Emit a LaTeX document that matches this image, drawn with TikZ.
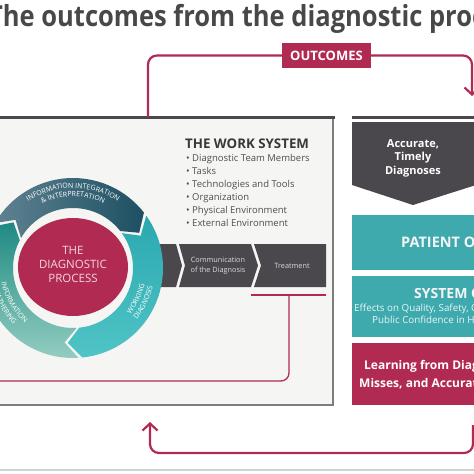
\documentclass[tikz,border=0pt]{standalone}
\usepackage{fontspec}
\setmainfont{Open Sans}
\usepackage{tikz}
\usetikzlibrary{positioning, arrows.meta, decorations.text}

\definecolor{crim}{RGB}{176,42,82}
\definecolor{tealbox}{RGB}{62,170,174}
\definecolor{darkbar}{RGB}{74,72,77}
\definecolor{titlegray}{RGB}{72,72,74}
\definecolor{boxbg}{RGB}{245,245,243}
\definecolor{rimgray}{RGB}{125,125,125}
\definecolor{pinktxt}{RGB}{246,214,222}
\definecolor{listgray}{RGB}{78,78,80}

\newcommand\ringtxt{\color{white}\fontsize{7}{7}\selectfont}

\begin{document}
\begin{tikzpicture}[x=1pt, y=1pt,
    fb/.style={draw=crim, line width=2.2pt, rounded corners=9pt},
    frameline/.style={draw=crim, line width=1.3pt, rounded corners=8pt},
    barb/.style={-{Straight Barb[length=7pt, width=15pt]}},
    lbl/.style={inner sep=0pt, anchor=base west},
    ringtext/.style={decorate, decoration={text along path, text align=center, text={|\ringtxt|#1}}}]

    \useasboundingbox (0,0) rectangle (474,-474);
    \clip (0,0) rectangle (474,-474);
    \fill[white] (0,0) rectangle (474,-474);

    \node (title) [lbl, text=titlegray] at (-12,-26)
        {\scalebox{0.88}[1]{\fontsize{29}{29}\selectfont\bfseries The outcomes from the diagnostic process}};

    % the work system
    \fill[boxbg] (-5,-117) rectangle (333,-405);
    \draw[rimgray, line width=1.6pt] (-5,-405) -| (333,-117);
    \draw[darkbar, line width=3pt] (-5,-117) -- (334.5,-117);

    \coordinate (loopin) at (148,-117);
    \coordinate (loopout) at (472,-96);
    \coordinate (outcpt) at (326.5,-55.5);
    \draw[fb, barb] (loopin) |- (outcpt) -| (loopout);
    \node (outc) [fill=crim, text=white, inner sep=0pt, minimum width=89pt, minimum height=25pt,
        font=\fontsize{13}{13}\selectfont\bfseries] at (outcpt) {OUTCOMES};

    \node (ws) [lbl, text=black!78, font=\fontsize{13.3}{13.3}\selectfont\bfseries] at (185,-148) {THE WORK SYSTEM};
    \foreach \t [count=\i] in {Diagnostic Team Members, Tasks, Technologies and Tools,
        Organization, Physical Environment, External Environment}
        \node (item\i) [lbl, text=listgray, font=\fontsize{9.5}{9.5}\selectfont] at (186,-148.5-13*\i) {\textbullet\ \t};

    \fill[darkbar] (150,-244) -- (176,-244) -- (182,-265.5) -- (176,-287) -- (150,-287) -- cycle;
    \fill[darkbar] (179,-244) -- (251,-244) -- (258,-265.5) -- (251,-287) -- (179,-287) -- (185,-265.5) -- cycle;
    \fill[darkbar] (254,-244) -- (326,-244) -- (326,-287) -- (254,-287) -- (261,-265.5) -- cycle;
    \node (comm) [align=center, text=black!14, inner sep=0pt, font=\fontsize{7.3}{10}\selectfont] at (218,-266) {Communication\\of the Diagnosis};
    \node (treat) [text=black!14, inner sep=0pt, font=\fontsize{7.3}{10}\selectfont] at (292,-266) {Treatment};

    \coordinate (trl) at (251,-295);
    \coordinate (trr) at (326,-295);
    \coordinate (trm) at (289,-295);
    \coordinate (frl) at (-5,-381);
    \draw[frameline] (trl) -- (trr);
    \draw[frameline] (trm) |- (frl);

    % the diagnostic process
    \begin{scope}[shift={(73,-268)}]
        \shade[left color={rgb,255:red,96;green,130;blue,146}, right color={rgb,255:red,28;green,80;blue,98}]
            (150:90) arc[start angle=150, end angle=38, radius=90] -- (28:75) -- (38:60)
            arc[start angle=38, end angle=150, radius=60] -- (140:75) -- cycle;
        \shade[top color={rgb,255:red,42;green,168;blue,176}, bottom color={rgb,255:red,80;green,196;blue,198}]
            (35.5:90) arc[start angle=35.5, end angle=-84, radius=90] -- (-94:75) -- (-84:60)
            arc[start angle=-84, end angle=35.5, radius=60] -- (25.5:75) -- cycle;
        \shade[top color={rgb,255:red,30;green,138;blue,130}, bottom color={rgb,255:red,150;green,206;blue,194}]
            (-86.5:90) arc[start angle=-86.5, end angle=-207.5, radius=90] -- (-217.5:75) -- (-207.5:60)
            arc[start angle=-207.5, end angle=-86.5, radius=60] -- (-96.5:75) -- cycle;

        \path[ringtext={INFORMATION INTEGRATION}] (150:80) arc[start angle=150, end angle=30, radius=80];
        \path[ringtext={{\&} INTERPRETATION}] (150:71.5) arc[start angle=150, end angle=30, radius=71.5];
        \path[ringtext={WORKING}] (-56:73.5) arc[start angle=-56, end angle=4, radius=73.5];
        \path[ringtext={DIAGNOSIS}] (-56:82) arc[start angle=-56, end angle=4, radius=82];
        \path[ringtext={INFORMATION}] (-180:73) arc[start angle=-180, end angle=-120, radius=73];
        \path[ringtext={GATHERING}] (-180:82) arc[start angle=-180, end angle=-120, radius=82];

        \fill[crim] (0,1) ellipse [x radius=55, y radius=49];
        \node (dp) [align=center, text=pinktxt, inner sep=0pt, font=\fontsize{11.5}{14}\selectfont] at (0,4)
            {THE\\DIAGNOSTIC\\PROCESS};
    \end{scope}

    % outcomes column
    \draw[darkbar, line width=3pt] (352,-117) -- (480,-117);
    \fill[darkbar] (352,-122) -- (476,-122) -- (476,-185) -- (413,-205) -- (352,-185) -- cycle;
    \node (acc) [align=center, text=white, inner sep=0pt, font=\fontsize{11}{13.5}\selectfont\bfseries] at (413,-158)
        {Accurate,\\Timely\\Diagnoses};

    \fill[tealbox] (352,-215) rectangle (480,-270);
    \fill[tealbox] (352,-276) rectangle (480,-337);
    \fill[crim] (352,-343) rectangle (480,-405);

    \node (pat) [lbl, text=white!96!black, font=\fontsize{14.5}{14.5}\selectfont\bfseries] at (401,-247) {PATIENT OUTCOMES};
    \node (sys) [lbl, text=white!96!black, font=\fontsize{14}{14}\selectfont\bfseries] at (414,-298) {SYSTEM OUTCOMES};
    \node (eff) [lbl, text=white!88!tealbox, font=\fontsize{9.8}{9.8}\selectfont] at (354,-311) {Effects on Quality, Safety, Cost, and};
    \node (pub) [lbl, text=white!88!tealbox, font=\fontsize{9.8}{9.8}\selectfont] at (372,-323) {Public Confidence in Health Care};
    \node (learn) [lbl, text=white, font=\fontsize{12}{12}\selectfont\bfseries] at (364,-369) {Learning from Diagnostic Errors, Near};
    \node (misses) [lbl, text=white, font=\fontsize{12}{12}\selectfont\bfseries] at (359,-387) {Misses, and Accurate, Timely Diagnoses};

    % feedback
    \coordinate (fbstart) at (473,-425);
    \coordinate (fbturn) at (150,-453);
    \coordinate (fbend) at (150,-422);
    \draw[fb, barb] (fbstart) |- (fbturn) -- (fbend);

    \draw[black!18, line width=2pt] (0,-470) -- (474,-470);

\end{tikzpicture}
\end{document}
